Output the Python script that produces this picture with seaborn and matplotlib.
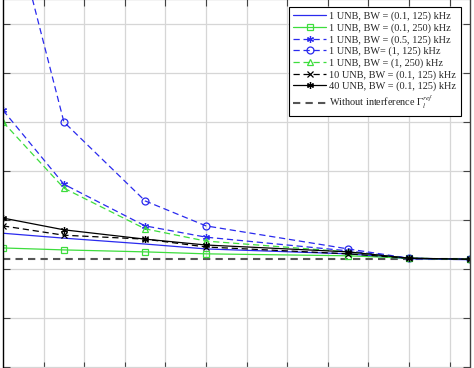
import matplotlib
matplotlib.use("Agg")
import matplotlib.pyplot as plt
import seaborn as sns
import numpy as np
import pandas as pd

# ---- data (arbitrary axis units, grid spacing = 1) ----
x_vals = [0, 1.5, 3.5, 5, 8.5, 10, 11.5]
unb1_bw01_125 = [1.73, 1.63, 1.51, 1.41, 1.31, 1.21, 1.19]
unb1_bw01_250 = [1.43, 1.39, 1.35, 1.31, 1.27, 1.22, 1.20]
unb1_bw05_125 = [4.24, 2.73, 1.88, 1.65, 1.37, 1.22, 1.20]
unb1_bw1_125 = [8.85, 4.00, 2.39, 1.88, 1.41, 1.22, 1.20]
unb1_bw1_250 = [4.00, 2.65, 1.82, 1.57, 1.35, 1.22, 1.20]
unb10_bw01_125 = [1.88, 1.69, 1.61, 1.45, 1.31, 1.22, 1.20]
unb40_bw01_125 = [2.04, 1.80, 1.61, 1.49, 1.35, 1.22, 1.20]
ref_value = 1.20

labels = [
    "1 UNB, BW = (0.1, 125) kHz",
    "1 UNB, BW = (0.1, 250) kHz",
    "1 UNB, BW = (0.5, 125) kHz",
    "1 UNB, BW= (1, 125) kHz",
    "1 UNB, BW = (1, 250) kHz",
    "10 UNB, BW = (0.1, 125) kHz",
    "40 UNB, BW = (0.1, 125) kHz",
]
ref_label = r"Without interference $\Gamma_l^{ref}$"
x_ticks = list(range(1, 12))
y_ticks = list(range(-1, 7))

series = [unb1_bw01_125, unb1_bw01_250, unb1_bw05_125, unb1_bw1_125,
          unb1_bw1_250, unb10_bw01_125, unb40_bw01_125]

BLUE = "#2a2aee"
GREEN = "#3ddd3d"
DASH = (0, (5, 3))
styles = [
    dict(color=BLUE, ls="-", marker="None", mfc=BLUE),
    dict(color=GREEN, ls="-", marker="s", mfc="none"),
    dict(color=BLUE, ls=DASH, marker=(6, 2, 0), mfc=BLUE),
    dict(color=BLUE, ls=DASH, marker="o", mfc="none"),
    dict(color=GREEN, ls=DASH, marker="^", mfc="none"),
    dict(color="black", ls=DASH, marker="x", mfc="black"),
    dict(color="black", ls="-", marker=(6, 2, 0), mfc="black"),
]

sns.set_style("white")
plt.rcParams["font.family"] = ["Liberation Serif", "DejaVu Serif"]
plt.rcParams["mathtext.fontset"] = "stix"

fig = plt.figure(figsize=(4.74, 3.68), dpi=100)
ax = fig.add_axes([3 / 474, -1 / 368, 467 / 474, 370 / 368])

for vals, lab, st in zip(series, labels, styles):
    df = pd.DataFrame({"x": x_vals, "y": vals})
    sns.lineplot(data=df, x="x", y="y", ax=ax, label=lab, color=st["color"],
                 lw=0.9, legend=False)
    line = ax.lines[-1]
    line.set_linestyle(st["ls"])
    line.set_marker(st["marker"])
    line.set_markersize(5)
    line.set_markeredgewidth(0.9)
    line.set_markeredgecolor(st["color"])
    line.set_markerfacecolor(st["mfc"])
    line.set_label(lab)

ax.axhline(ref_value, color="#555555", lw=1.5, linestyle=(0, (3.5, 2.5)),
           label=ref_label, zorder=1.5)

ax.set_xlim(0, 11.5)
ax.set_ylim(-1.04, 6.51)
ax.set_xticks(x_ticks)
ax.set_yticks(y_ticks)
ax.set_xticklabels([])
ax.set_yticklabels([])
ax.set_xlabel("")
ax.set_ylabel("")
ax.grid(True, color="#d6d6d6", lw=0.9)
ax.set_axisbelow(True)
ax.tick_params(direction="in", length=5, width=0.8, color="#444444",
               top=True, right=True, bottom=True, left=True)
ax.spines["left"].set_color("black")
ax.spines["left"].set_linewidth(1.0)
ax.spines["right"].set_color("#444444")
ax.spines["right"].set_linewidth(1.0)

leg = ax.legend(loc="upper right", bbox_to_anchor=(458 / 467, 1 - 8 / 370),
                borderaxespad=0, fontsize=7.4, frameon=True, fancybox=False,
                edgecolor="black", framealpha=1, handlelength=3.2,
                labelspacing=0.2, handletextpad=0.3, borderpad=0.45)
leg.get_frame().set_linewidth(0.8)

fig.savefig("out.png", dpi=100)
